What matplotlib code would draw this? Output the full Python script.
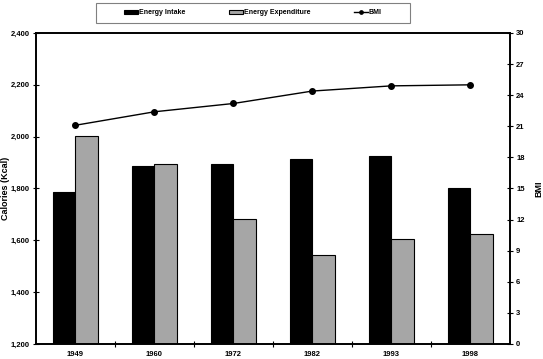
import numpy as np
import matplotlib.pyplot as plt
from matplotlib.patches import Rectangle

# data
years = ['1949', '1960', '1972', '1982', '1993', '1998']
energy_intake = [1785, 1887, 1895, 1912, 1926, 1800]
energy_expenditure = [2003, 1895, 1683, 1545, 1604, 1625]
bmi = [21.1, 22.4, 23.2, 24.4, 24.9, 25.0]

plt.rcParams['font.family'] = ['Liberation Sans', 'DejaVu Sans']
plt.rcParams['font.weight'] = 'bold'

fig = plt.figure(figsize=(5.43, 3.59), dpi=100)
ax = fig.add_axes([0.0663, 0.0418, 0.8727, 0.8663])

x = np.arange(len(years))
w = 0.28
ax.bar(x - w/2, energy_intake, width=w, color='black', edgecolor='black', linewidth=0.8, label='Energy Intake')
ax.bar(x + w/2, energy_expenditure, width=w, color='#a6a6a6', edgecolor='black', linewidth=0.8, label='Energy Expenditure')

ax.set_xlim(-0.5, len(years) - 0.5)
ax.set_ylim(1200, 2400)
ax.set_yticks(np.arange(1200, 2401, 200))
ax.set_yticklabels([f'{v:,}' for v in range(1200, 2401, 200)])
ax.set_xticks(x)
ax.set_xticklabels(years)
ax.set_xticks(x[:-1] + 0.5, minor=True)
ax.tick_params(axis='x', which='major', length=0, labelsize=5.5, pad=5)
ax.tick_params(axis='x', which='minor', direction='inout', length=5, width=0.8)
ax.tick_params(axis='y', direction='inout', length=5, width=0.8, labelsize=5.5, pad=2)
ax.set_ylabel('Calories (Kcal)', fontsize=6.5, fontweight='bold')
ax.yaxis.set_label_coords(-0.055, 0.5)
for s in ax.spines.values():
    s.set_linewidth(1.2)

ax2 = ax.twinx()
ax2.plot(x, bmi, color='black', linewidth=1, marker='o', markersize=4, label='BMI')
ax2.set_ylim(0, 30)
ax2.set_yticks(np.arange(0, 31, 3))
ax2.tick_params(axis='y', direction='inout', length=5, width=0.8, labelsize=5.5, pad=2)
ax2.set_ylabel('BMI', fontsize=6.5, fontweight='bold')
ax2.yaxis.set_label_coords(1.051, 0.5)
for s in ax2.spines.values():
    s.set_linewidth(1.2)

# legend box frame
fig.patches.append(Rectangle((0.177, 0.936), 0.578, 0.056, transform=fig.transFigure,
                             facecolor='white', edgecolor='#808080', linewidth=0.8))
h1, l1 = ax.get_legend_handles_labels()
h2, l2 = ax2.get_legend_handles_labels()
fig.legend(h1 + h2, l1 + l2, loc='center', bbox_to_anchor=(0.466, 0.964),
           ncol=3, fontsize=5, frameon=False,
           handlelength=2.0, handleheight=0.6, handletextpad=0.1, columnspacing=6.3,
           markerscale=0.6)

fig.savefig('out.png', dpi=100)
